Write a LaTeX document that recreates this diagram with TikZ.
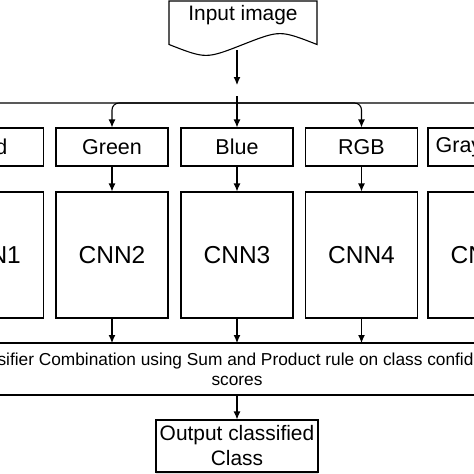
\documentclass[tikz,border=0pt]{standalone}
\usepackage{fontspec}
\setmainfont{Liberation Sans}
\usetikzlibrary{shadows,arrows.meta}
\tikzset{
  >={Latex[length=8pt,width=7pt]},
  chanbox/.style={draw, minimum width=112pt, minimum height=38pt, inner sep=0pt,
    font=\fontsize{21.5}{24}\selectfont},
  cnnbox/.style={draw, minimum width=112pt, minimum height=126pt, inner sep=0pt,
    font=\fontsize{24.5}{28}\selectfont},
}

\begin{document}
\begin{tikzpicture}[x=1pt,y=-1pt,line width=1.1pt]
    \useasboundingbox (0,0) rectangle (474,474);
    \clip (0,0) rectangle (474,474);
    \draw (169,1) -- (169,44.5) .. controls (206,59) .. (243,44.5)
      .. controls (280,30) .. (317,44.5) -- (317,1) -- cycle;
    \node[font=\fontsize{20.9}{24}\selectfont] (input) at (243,15) {Input image};
    \coordinate (split) at (237,103);
    \draw[->] (237,50) -- (237,85);
    \foreach \name/\txt/\cnn/\x in {red/Red/CNN1/-12.5, green/Green/CNN2/112,
        blue/Blue/CNN3/237, rgb/RGB/CNN4/361.5, gray/Grayscale/CNN5/484} {
      \node[chanbox] (\name) at (\x,147) {\txt};
      \node[cnnbox] (\name cnn) at (\x,255) {\cnn};
      \draw[->,rounded corners=7pt] (split) -| (\name.north);
      \draw[->] (\name.south) -- (\name cnn.north);
      \draw[->] (\name cnn.south) -- (\x,343);
    }
    \node[draw, minimum width=640pt, minimum height=52pt, align=center,
      font=\fontsize{17.3}{20}\selectfont] (combine) at (237,369)
      {Classifier Combination using Sum and Product rule on class confidence\\scores};
    \node[draw, fill=white, minimum width=162pt, minimum height=52pt, inner sep=0pt,
      align=center, font=\fontsize{20.9}{25}\selectfont,
      drop shadow={opacity=0.25, shadow xshift=0pt, shadow yshift=-1.5pt}]
      (output) at (237,446) {Output classified\\Class};
    \draw[->] (combine.south) -- (output.north);
  \end{tikzpicture}
\end{document}
